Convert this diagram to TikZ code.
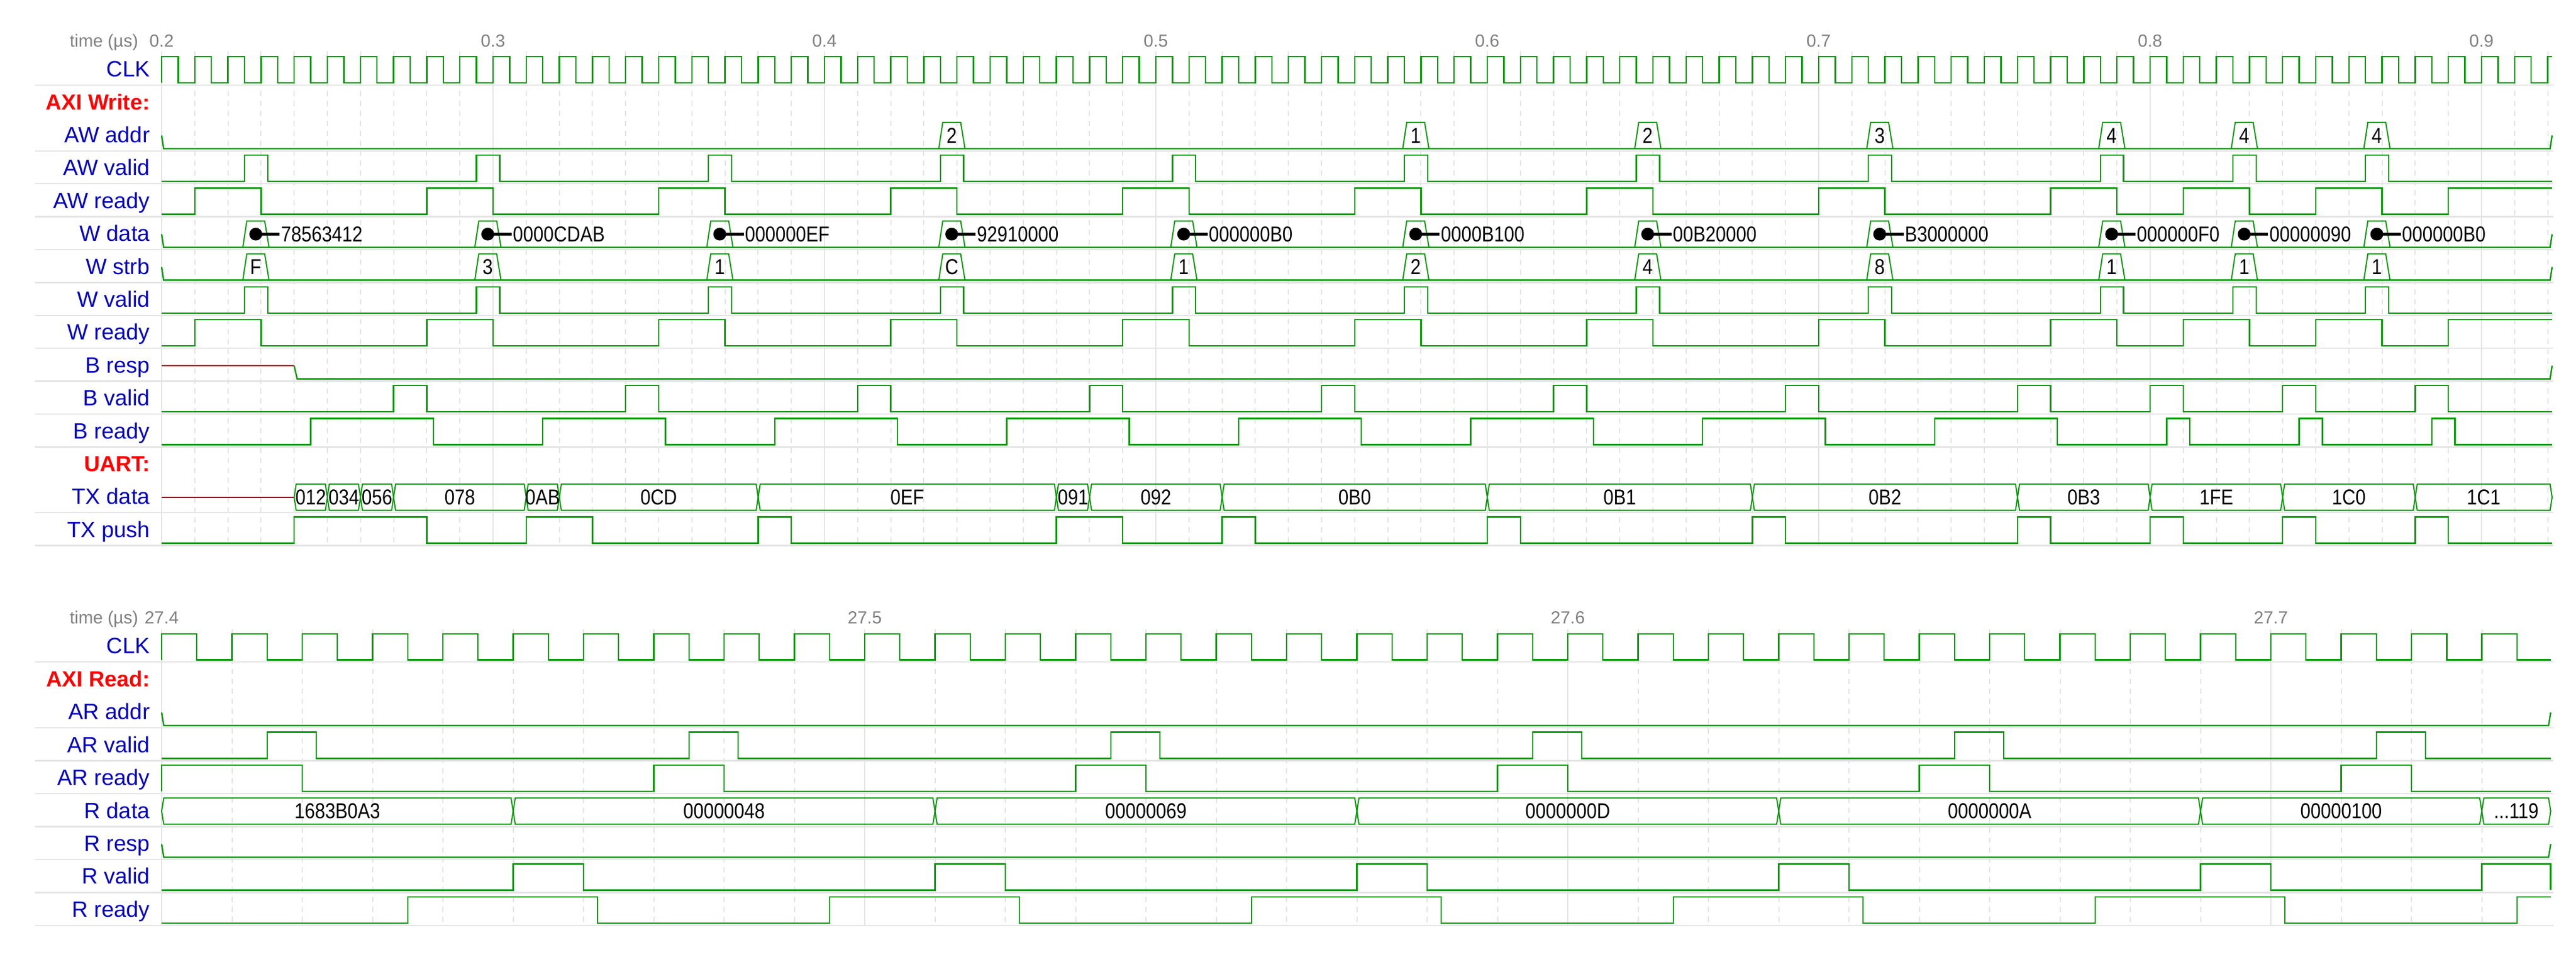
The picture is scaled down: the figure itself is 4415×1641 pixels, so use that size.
\documentclass[tikz,border=0pt]{standalone}
\usepackage{fontspec}
\setmainfont{Liberation Sans}
\definecolor{sg}{HTML}{009900}
\definecolor{lb}{HTML}{0000C0}
\definecolor{dr}{HTML}{990000}
\definecolor{gl}{HTML}{E4E4E4}
\tikzset{
 sig/.style={draw=sg, line width=2.4pt},
 bus/.style={draw=sg, line width=2pt},
 redline/.style={draw=dr, line width=2.4pt},
 sepline/.style={draw=gl, line width=2.5pt},
 gridsolid/.style={draw=gl, line width=2pt},
 griddash/.style={draw=gl, line width=2pt, dash pattern=on 9pt off 8pt},
 lbl/.style={anchor=base east, text=lb, font=\fontsize{38}{40}\selectfont, inner sep=0pt},
 hdr/.style={anchor=base east, text=red, font=\fontsize{37.5}{40}\selectfont\bfseries, inner sep=0pt},
 val/.style={text=black, font=\fontsize{37}{38}\selectfont, inner sep=0pt},
 tlab/.style={anchor=base, text=gray, font=\fontsize{30}{32}\selectfont, inner sep=0pt},
}
\newcommand\vt[1]{\scalebox{0.85}[1]{#1}}
% digital signal: #1 row bottom, #2 intervals, #3 end
\newcommand\dsig[3]{\draw[sig] (0,#1-4) \foreach \s/\e in {#2}{ -- (\s,#1-4) -- (\s,#1-49) -- (\e,#1-49) -- (\e,#1-4)} -- (#3,#1-4);}
% same, ending high: #3 last rise, #4 end
\newcommand\dsigh[4]{\draw[sig] (0,#1-4) \foreach \s/\e in {#2}{ -- (\s,#1-4) -- (\s,#1-49) -- (\e,#1-49) -- (\e,#1-4)} -- (#3,#1-4) -- (#3,#1-49) -- (#4,#1-49);}
% low bus line with start and end slants
\newcommand\lowbus[2]{\draw[sig] (0,#1-26.5) -- (0.6,#1-4) -- (#2-0.6,#1-4) -- (#2,#1-26.5);}
\newcommand\lowbusb[2]{\draw[sig] (0,#1-26.5) -- (0.3,#1-4) -- (#2-0.3,#1-4) -- (#2,#1-26.5);}
% pulse box: #1 bottom, #2 start, #3 text
\newcommand\pbox[3]{\draw[bus] (#2-0.5,#1-4) -- (#2+0.7,#1-49) -- (#2+6.1,#1-49) -- (#2+7.4,#1-4);
 \node[val] at (#2+3.4,#1-26.5) {\vt{#3}};}
\newcommand\lolli[3]{\draw[bus] (#2-0.5,#1-4) -- (#2+0.7,#1-49) -- (#2+6.1,#1-49) -- (#2+7.4,#1-4);
 \fill (#2+3.4,#1-26.5) circle[radius=11pt];
 \draw[line width=4.5pt] (#2+3.4,#1-26.5) -- ++(41pt,0pt) node[val,anchor=west]{\vt{#3}};}
% hexagon value box: #1 bottom, #2 a, #3 b, #4 slant, #5 text
\newcommand\hexv[5]{\draw[bus] (#2,#1-26.5) -- (#2+#4,#1-49) -- (#3-#4,#1-49) -- (#3,#1-26.5) -- (#3-#4,#1-4) -- (#2+#4,#1-4) -- cycle;
 \node[val] at ({(#2+#3)/2},#1-26.5) {\vt{#5}};}
\begin{document}
\begin{tikzpicture}[x=1pt,y=-1pt]
\useasboundingbox[fill=white] (0,0) rectangle (4415,1641);
% separators
\foreach \b in {146,258.8,315.2,371.6,428,484.4,540.8,597.2,653.6,710,766.4,879.2,935.6,
  1135.2,1248.1,1304.55,1361,1417.45,1473.9,1530.35,1586.8}
  \draw[sepline] (60,\b) -- (4376,\b);
% labels top
\node[tlab,anchor=base east] (tt) at (237,80) {time (µs)};
\node[lbl] (l0) at (257,131.6) {CLK};
\node[hdr] (l1) at (257,188) {AXI Write:};
\foreach \b/\t [count=\n] in {258.8/AW addr,315.2/AW valid,371.6/AW ready,428/W data,484.4/W strb,540.8/W valid,597.2/W ready,653.6/B resp,710/B valid,766.4/B ready,879.2/TX data,935.6/TX push}
  \node[lbl] (lt\n) at (257,\b-14.4) {\t};
\node[hdr] (l12) at (257,766.4+56.4-14.4) {UART:};
% labels bottom
\node[tlab,anchor=base east] (tb) at (237,1069) {time (µs)};
\node[lbl] (m0) at (257,1135.2-14.4) {CLK};
\node[hdr] (m1) at (257,1191.65-14.4) {AXI Read:};
\foreach \b/\t [count=\n] in {1248.1/AR addr,1304.55/AR valid,1361/AR ready,1417.45/R data,1473.9/R resp,1530.35/R valid,1586.8/R ready}
  \node[lbl] (lb\n) at (257,\b-14.4) {\t};
% ================= TOP PANEL =================
\begin{scope}[x=5.68pt, xshift=277pt]
\foreach \i in {0,...,72}{
  \pgfmathtruncatemacro\m{mod(\i,10)}
  \ifnum\m=0 \draw[gridsolid] (\i*10,88) -- (\i*10,937);
  \else \draw[griddash] (\i*10,88) -- (\i*10,937); \fi}
\foreach \i/\l in {0/0.2,100/0.3,200/0.4,300/0.5,400/0.6,500/0.7,600/0.8,700/0.9}
  \node[tlab] at (\i,80) {\l};
% CLK
\draw[sig] (0,142) \foreach \i in {0,...,71}{ -- (\i*10,142) -- (\i*10,97) -- (\i*10+5,97) -- (\i*10+5,142)} -- (720,142) -- (720,97) -- (721.3,97);
% AW addr
\lowbus{258.8}{721.3}
\foreach \s/\v in {235/2,375/1,445/2,515/3,585/4,625/4,665/4} {\pbox{258.8}{\s}{\v}}
% AW valid / W valid
\dsig{315.2}{25/32,95/102,165/172,235/242,305/312,375/382,445/452,515/522,585/592,625/632,665/672}{721.3}
\dsig{540.8}{25/32,95/102,165/172,235/242,305/312,375/382,445/452,515/522,585/592,625/632,665/672}{721.3}
% AW ready / W ready
\dsigh{371.6}{10/30,80/100,150/170,220/240,290/310,360/380,430/450,500/520,570/590,610/630,650/670}{690}{721.3}
\dsigh{597.2}{10/30,80/100,150/170,220/240,290/310,360/380,430/450,500/520,570/590,610/630,650/670}{690}{721.3}
% W data
\lowbus{428}{721.3}
\foreach \s/\v in {25/78563412,95/0000CDAB,165/000000EF,235/92910000,305/000000B0,375/0000B100,445/00B20000,515/B3000000,585/000000F0,625/00000090,665/000000B0} {\lolli{428}{\s}{\v}}
% W strb
\lowbus{484.4}{721.3}
\foreach \s/\v in {25/F,95/3,165/1,235/C,305/1,375/2,445/4,515/8,585/1,625/1,665/1} {\pbox{484.4}{\s}{\v}}
% B resp
\draw[redline] (0,627.1) -- (40,627.1);
\draw[sig] (40,627.1) -- (40.9,649.6) -- (720.7,649.6) -- (721.3,627.1);
% B valid
\dsig{710}{70/80,140/150,210/220,280/290,350/360,420/430,490/500,560/570,600/610,640/650,680/690}{721.3}
% B ready
\dsig{766.4}{45/82,115/152,185/222,255/292,325/362,395/432,465/502,535/572,605/612,645/652,685/692}{721.3}
% TX data
\draw[redline] (0,852.7) -- (40,852.7);
\foreach \a/\b/\v in {40/50/012,50/60/034,60/70/056,70/110/078,110/120/0AB,120/180/0CD,180/270/0EF,270/280/091,280/320/092,320/400/0B0,400/480/0B1,480/560/0B2,560/600/0B3,600/640/1FE,640/680/1C0,680/721.3/1C1}
  {\hexv{879.2}{\a}{\b}{0.6}{\v}}
% TX push
\dsig{935.6}{40/80,110/130,180/190,270/290,320/330,400/410,480/490,560/570,600/610,640/650,680/690}{721.3}
\end{scope}
% ================= BOTTOM PANEL =================
\begin{scope}[x=12.05pt, xshift=277pt]
\foreach \i in {0,...,33}{
  \pgfmathtruncatemacro\m{mod(\i,10)}
  \ifnum\m=0 \draw[gridsolid] (\i*10,1079) -- (\i*10,1588);
  \else \draw[griddash] (\i*10,1079) -- (\i*10,1588); \fi}
\foreach \i/\l in {0/27.4,100/27.5,200/27.6,300/27.7}
  \node[tlab] at (\i,1069) {\l};
\draw[sig] (0,1131.5) \foreach \i in {0,...,33}{ -- (\i*10,1131.5) -- (\i*10,1087) -- (\i*10+5,1087) -- (\i*10+5,1131.5)} -- (339.8,1131.5);
\lowbusb{1248.1}{339.8}
\dsig{1304.55}{15/22,75/82,135/142,195/202,255/262,315/322}{339.8}
\dsig{1361}{0/20,70/80,130/140,190/200,250/260,310/320}{339.8}
\foreach \a/\b/\v in {0/50/1683B0A3,50/110/00000048,110/170/00000069,170/230/0000000D,230/290/0000000A,290/330/00000100}
  {\hexv{1417.45}{\a}{\b}{0.3}{\v}}
\hexv{1417.45}{330}{339.8}{0.3}{...119}
\lowbusb{1473.9}{339.8}
\dsig{1530.35}{50/60,110/120,170/180,230/240,290/300,330/339.8}{339.8}
\dsigh{1586.8}{35/62,95/122,155/182,215/242,275/302}{335}{339.8}
\end{scope}
\end{tikzpicture}
\end{document}
